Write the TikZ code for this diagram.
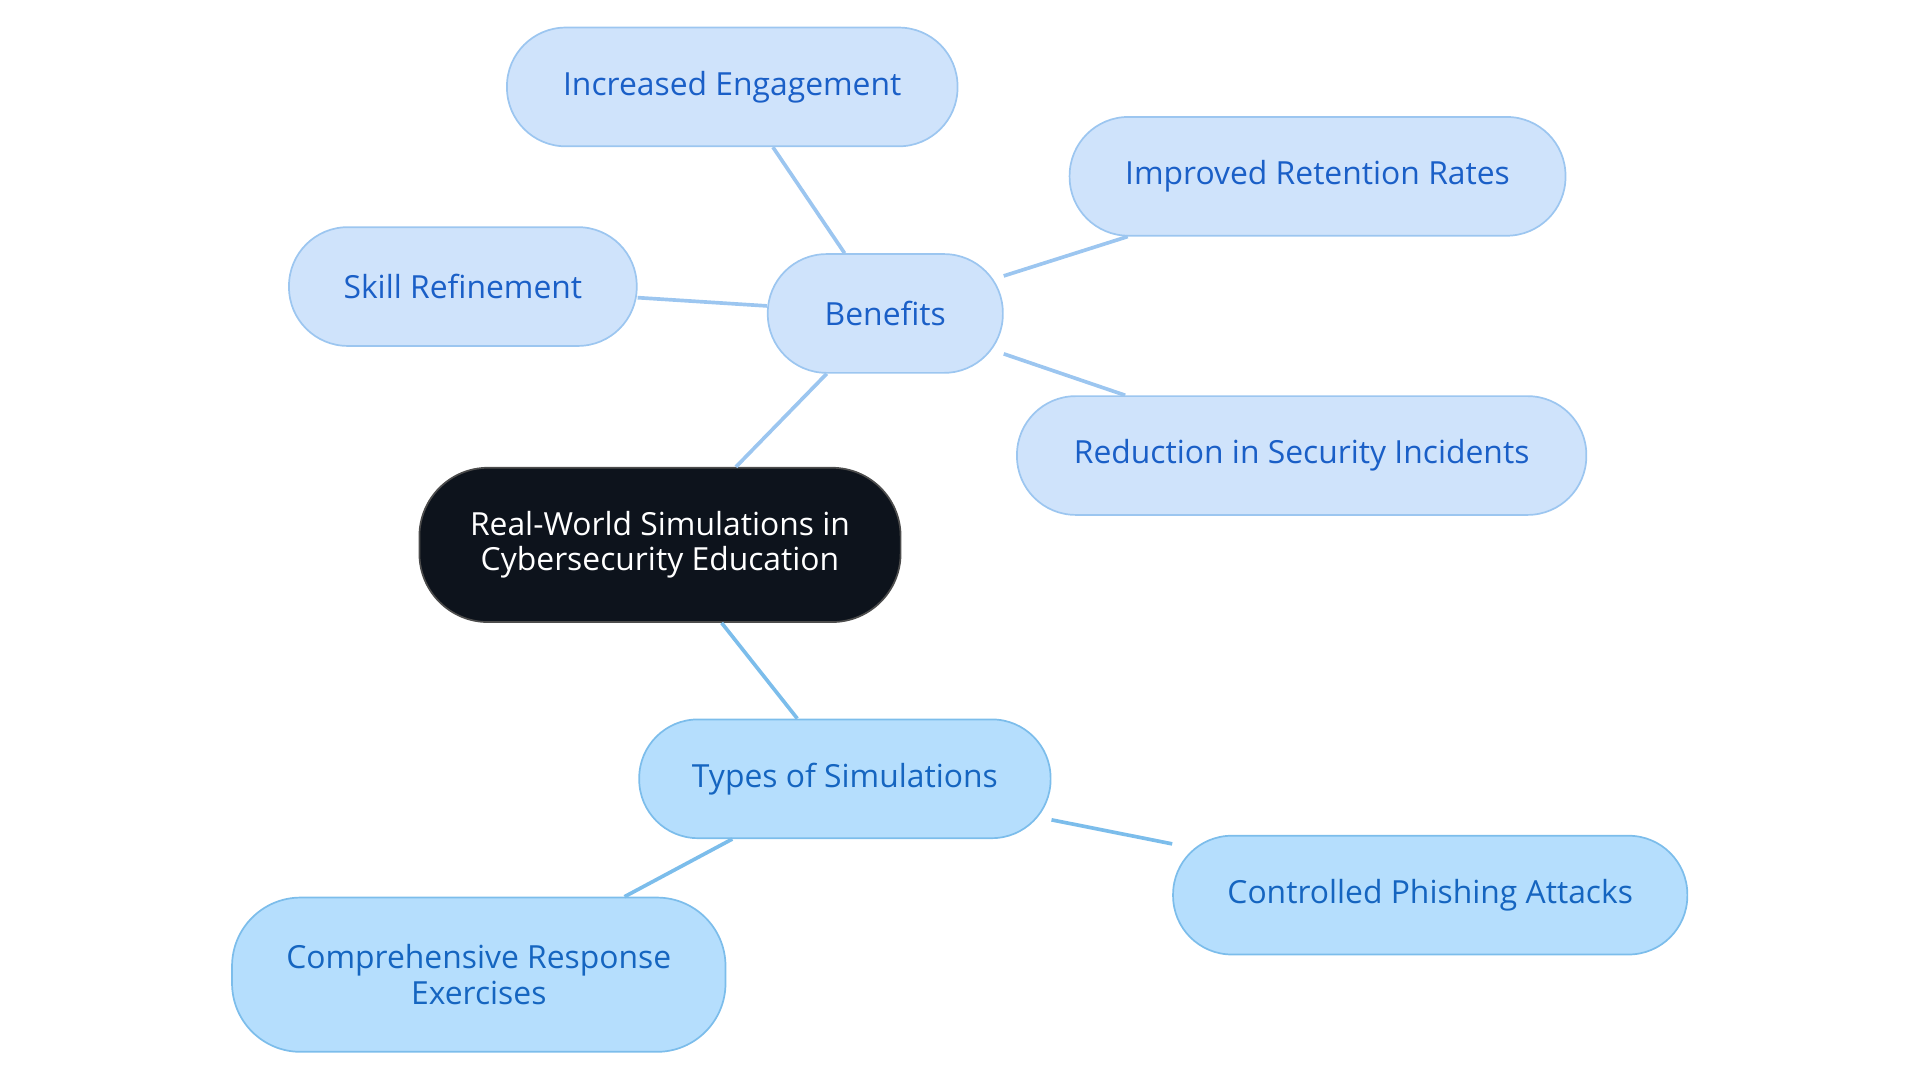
\documentclass[tikz,border=0pt]{standalone}
\usepackage{fontspec}
\setmainfont{Open Sans}
\definecolor{bfill}{HTML}{CFE3FB}
\definecolor{bdraw}{HTML}{9CC6F0}
\definecolor{btext}{HTML}{1A5FC7}
\definecolor{tfill}{HTML}{B5DEFD}
\definecolor{tdraw}{HTML}{7CBDEB}
\definecolor{ttext}{HTML}{1565C0}
\definecolor{cfill}{HTML}{0D131C}
\begin{document}
\begin{tikzpicture}[x=0.5pt,y=-0.5pt,
 base/.style={rounded corners=24pt,line width=0.7pt,align=center,font=\fontsize{13}{14.5}\selectfont,inner sep=0pt,minimum height=48.5pt},
 ben/.style={base,fill=bfill,draw=bdraw,text=btext},
 typ/.style={base,fill=tfill,draw=tdraw,text=ttext},
 bl/.style={draw=bdraw,line width=1.5pt},
 tl/.style={draw=tdraw,line width=1.5pt}]
\useasboundingbox (0,0) rectangle (1568,884);
\node[base,fill=cfill,draw=black!70,text=white,minimum width=196.5pt,minimum height=63pt,rounded corners=28pt] (c) at (539,445) {Real-World Simulations in\\Cybersecurity Education};
\node[ben,minimum width=96pt] (b) at (723,256) {Benefits};
\node[ben,minimum width=184pt] (b1) at (598,71) {Increased Engagement};
\node[ben,minimum width=202.5pt] (b2) at (1076,144) {Improved Retention Rates};
\node[ben,minimum width=142pt] (b3) at (378,234) {Skill Refinement};
\node[ben,minimum width=232.5pt] (b4) at (1063,372) {Reduction in Security Incidents};
\node[typ,minimum width=168pt] (t) at (690,636) {Types of Simulations};
\node[typ,minimum width=210pt] (t1) at (1168,731) {Controlled Phishing Attacks};
\node[typ,minimum width=201.5pt,minimum height=63pt,rounded corners=28pt] (t2) at (391,796) {Comprehensive Response\\Exercises};
\begin{scope}[on background layer/.style={}]
\end{scope}
\path[bl] (c) -- (b);
\path[bl] (b) -- (b1);
\path[bl] (b) -- (b2);
\path[bl] (b) -- (b3);
\path[bl] (b) -- (b4);
\path[tl] (c) -- (t);
\path[tl] (t) -- (t1);
\path[tl] (t) -- (t2);
\end{tikzpicture}
\end{document}
